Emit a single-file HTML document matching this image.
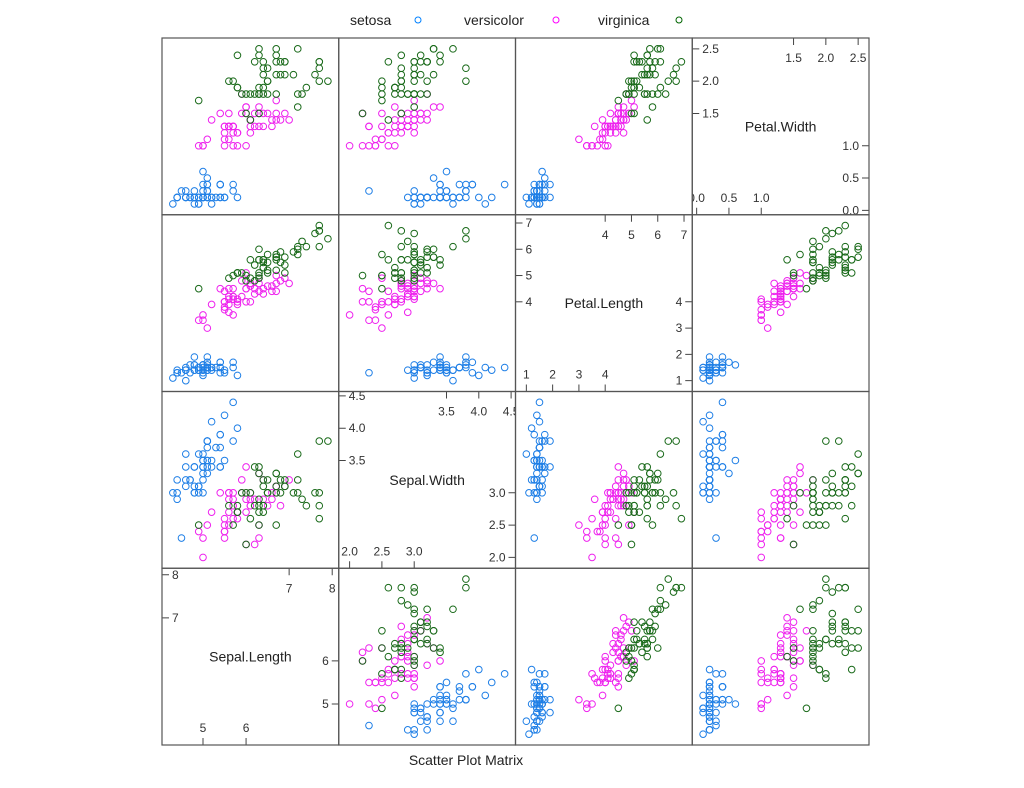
<!DOCTYPE html>
<html><head><meta charset="utf-8">
<style>
html,body{margin:0;padding:0;background:#fff;}
svg{display:block;font-family:"Liberation Sans",sans-serif;}
</style></head>
<body>
<svg id="chart" width="1024" height="788" viewBox="0 0 1024 788" xmlns="http://www.w3.org/2000/svg">
<rect width="1024" height="788" fill="#fff"/>
<g font-size="14" fill="#222">
  <text x="350" y="25">setosa</text>
  <circle cx="418" cy="20" r="3" fill="none" stroke="#0080ff"/>
  <text x="464" y="25">versicolor</text>
  <circle cx="556" cy="20" r="3" fill="none" stroke="#ff00ff"/>
  <text x="598" y="25">virginica</text>
  <circle cx="679" cy="20" r="3" fill="none" stroke="#006400"/>
</g>
<g id="panels"></g>
<text x="466" y="765" font-size="14" fill="#222" text-anchor="middle">Scatter Plot Matrix</text>
</svg>
<script>
const varNames = ["Sepal.Length","Sepal.Width","Petal.Length","Petal.Width"];
const speciesNames = ["setosa","versicolor","virginica"];
const speciesColors = ["#1f7fe6","#ee22ee","#1a6a1a"];
const sepalLength = [5.1,4.9,4.7,4.6,5.0,5.4,4.6,5.0,4.4,4.9,5.4,4.8,4.8,4.3,5.8,5.7,5.4,5.1,5.7,5.1,5.4,5.1,4.6,5.1,4.8,5.0,5.0,5.2,5.2,4.7,4.8,5.4,5.2,5.5,4.9,5.0,5.5,4.9,4.4,5.1,5.0,4.5,4.4,5.0,5.1,4.8,5.1,4.6,5.3,5.0,
7.0,6.4,6.9,5.5,6.5,5.7,6.3,4.9,6.6,5.2,5.0,5.9,6.0,6.1,5.6,6.7,5.6,5.8,6.2,5.6,5.9,6.1,6.3,6.1,6.4,6.6,6.8,6.7,6.0,5.7,5.5,5.5,5.8,6.0,5.4,6.0,6.7,6.3,5.6,5.5,5.5,6.1,5.8,5.0,5.6,5.7,5.7,6.2,5.1,5.7,
6.3,5.8,7.1,6.3,6.5,7.6,4.9,7.3,6.7,7.2,6.5,6.4,6.8,5.7,5.8,6.4,6.5,7.7,7.7,6.0,6.9,5.6,7.7,6.3,6.7,7.2,6.2,6.1,6.4,7.2,7.4,7.9,6.4,6.3,6.1,7.7,6.3,6.4,6.0,6.9,6.7,6.9,5.8,6.8,6.7,6.7,6.3,6.5,6.2,5.9];
const sepalWidth = [3.5,3.0,3.2,3.1,3.6,3.9,3.4,3.4,2.9,3.1,3.7,3.4,3.0,3.0,4.0,4.4,3.9,3.5,3.8,3.8,3.4,3.7,3.6,3.3,3.4,3.0,3.4,3.5,3.4,3.2,3.1,3.4,4.1,4.2,3.1,3.2,3.5,3.6,3.0,3.4,3.5,2.3,3.2,3.5,3.8,3.0,3.8,3.2,3.7,3.3,
3.2,3.2,3.1,2.3,2.8,2.8,3.3,2.4,2.9,2.7,2.0,3.0,2.2,2.9,2.9,3.1,3.0,2.7,2.2,2.5,3.2,2.8,2.5,2.8,2.9,3.0,2.8,3.0,2.9,2.6,2.4,2.4,2.7,2.7,3.0,3.4,3.1,2.3,3.0,2.5,2.6,3.0,2.6,2.3,2.7,3.0,2.9,2.9,2.5,2.8,
3.3,2.7,3.0,2.9,3.0,3.0,2.5,2.9,2.5,3.6,3.2,2.7,3.0,2.5,2.8,3.2,3.0,3.8,2.6,2.2,3.2,2.8,2.8,2.7,3.3,3.2,2.8,3.0,2.8,3.0,2.8,3.8,2.8,2.8,2.6,3.0,3.4,3.1,3.0,3.1,3.1,3.1,2.7,3.2,3.3,3.0,2.5,3.0,3.4,3.0];
const petalLength = [1.4,1.4,1.3,1.5,1.4,1.7,1.4,1.5,1.4,1.5,1.5,1.6,1.4,1.1,1.2,1.5,1.3,1.4,1.7,1.5,1.7,1.5,1.0,1.7,1.9,1.6,1.6,1.5,1.4,1.6,1.6,1.5,1.5,1.4,1.5,1.2,1.3,1.4,1.3,1.5,1.3,1.3,1.3,1.6,1.9,1.4,1.6,1.4,1.5,1.4,
4.7,4.5,4.9,4.0,4.6,4.5,4.7,3.3,4.6,3.9,3.5,4.2,4.0,4.7,3.6,4.4,4.5,4.1,4.5,3.9,4.8,4.0,4.9,4.7,4.3,4.4,4.8,5.0,4.5,3.5,3.8,3.7,3.9,5.1,4.5,4.5,4.7,4.4,4.1,4.0,4.4,4.6,4.0,3.3,4.2,4.2,4.2,4.3,3.0,4.1,
6.0,5.1,5.9,5.6,5.8,6.6,4.5,6.3,5.8,6.1,5.1,5.3,5.5,5.0,5.1,5.3,5.5,6.7,6.9,5.0,5.7,4.9,6.7,4.9,5.7,6.0,4.8,4.9,5.6,5.8,6.1,6.4,5.6,5.1,5.6,6.1,5.6,5.5,4.8,5.4,5.6,5.1,5.1,5.9,5.7,5.2,5.0,5.2,5.4,5.1];
const petalWidth = [0.2,0.2,0.2,0.2,0.2,0.4,0.3,0.2,0.2,0.1,0.2,0.2,0.1,0.1,0.2,0.4,0.4,0.3,0.3,0.3,0.2,0.4,0.2,0.5,0.2,0.2,0.4,0.2,0.2,0.2,0.2,0.4,0.1,0.2,0.2,0.2,0.2,0.1,0.2,0.2,0.3,0.3,0.2,0.6,0.4,0.3,0.2,0.2,0.2,0.2,
1.4,1.5,1.5,1.3,1.5,1.3,1.6,1.0,1.3,1.4,1.0,1.5,1.0,1.4,1.3,1.4,1.5,1.0,1.5,1.1,1.8,1.3,1.5,1.2,1.3,1.4,1.4,1.7,1.5,1.0,1.1,1.0,1.2,1.6,1.5,1.6,1.5,1.3,1.3,1.3,1.2,1.4,1.2,1.0,1.3,1.2,1.3,1.3,1.1,1.3,
2.5,1.9,2.1,1.8,2.2,2.1,1.7,1.8,1.8,2.5,2.0,1.9,2.1,2.0,2.4,2.3,1.8,2.2,2.3,1.5,2.3,2.0,2.0,1.8,2.1,1.8,1.8,1.8,2.1,1.6,1.9,2.0,2.2,1.5,1.4,2.3,2.4,1.8,1.8,2.1,2.4,2.3,1.9,2.3,2.5,2.3,1.9,2.0,2.3,1.8];
const speciesIndex = [].concat(Array(50).fill(0), Array(50).fill(1), Array(50).fill(2));
const lowerTicks = [["5","6"],["2.0","2.5","3.0"],["1","2","3","4"],["0.0","0.5","1.0"]];
const upperTicks = [["7","8"],["3.5","4.0","4.5"],["4","5","6","7"],["1.5","2.0","2.5"]];

const dataCols = [sepalLength, sepalWidth, petalLength, petalWidth];
const NS = "http://www.w3.org/2000/svg";
const L = 162, T = 38, R = 869, B = 744, P = (R - L) / 4;
const lims = dataCols.map(a => { const mn = Math.min(...a), mx = Math.max(...a), r = mx - mn; return [mn - 0.07 * r, mx + 0.07 * r]; });
function sx(v, c) { const x0 = L + c * P; return x0 + (v - lims[v === undefined ? 0 : c][0]) / (lims[c][1] - lims[c][0]) * P; }
function sy(v, r, rowTop) { return rowTop + P - (v - lims[r][0]) / (lims[r][1] - lims[r][0]) * P; }
function mk(tag, attrs, parent) { const e = document.createElementNS(NS, tag); for (const k in attrs) e.setAttribute(k, attrs[k]); parent.appendChild(e); return e; }

const root = document.getElementById("panels");
const defs = mk("defs", {}, root);
for (let rv = 0; rv < 4; rv++) {
  const rowTop = T + (3 - rv) * P;
  for (let cv = 0; cv < 4; cv++) {
    const x0 = L + cv * P;
    const cp = mk("clipPath", {id: "cp" + rv + cv}, defs);
    mk("rect", {x: x0, y: rowTop, width: P, height: P}, cp);
    const g = mk("g", {"clip-path": "url(#cp" + rv + cv + ")"}, root);
    if (rv === cv) {
      
      
      const lab = mk("text", {x: x0 + P / 2, y: rowTop + P / 2 + 5, "font-size": 14, "text-anchor": "middle", fill: "#222"}, g);
      lab.textContent = varNames[rv];
      
      
      const ax = mk("g", {stroke: "#444", fill: "#333", "font-size": 12}, g);
      
      
      const x1 = x0 + P, y1 = rowTop + P;
      lowerTicks[rv].forEach(t => {
        const v = parseFloat(t);
        const px = x0 + (v - lims[cv][0]) / (lims[cv][1] - lims[cv][0]) * P;
        const py = sy(v, rv, rowTop);
        mk("line", {x1: px, y1: y1, x2: px, y2: y1 - 7}, ax);
        const tb = mk("text", {x: px, y: y1 - 13, "text-anchor": "middle", stroke: "none"}, ax); tb.textContent = t;
        mk("line", {x1: x1, y1: py, x2: x1 - 7, y2: py}, ax);
        const tr = mk("text", {x: x1 - 10, y: py + 4, "text-anchor": "end", stroke: "none"}, ax); tr.textContent = t;
      });
      upperTicks[rv].forEach(t => {
        const v = parseFloat(t);
        const px = x0 + (v - lims[cv][0]) / (lims[cv][1] - lims[cv][0]) * P;
        const py = sy(v, rv, rowTop);
        mk("line", {x1: px, y1: rowTop, x2: px, y2: rowTop + 7}, ax);
        const tt = mk("text", {x: px, y: rowTop + 24, "text-anchor": "middle", stroke: "none"}, ax); tt.textContent = t;
        mk("line", {x1: x0, y1: py, x2: x0 + 7, y2: py}, ax);
        const tl = mk("text", {x: x0 + 10, y: py + 4, "text-anchor": "start", stroke: "none"}, ax); tl.textContent = t;
      });
    } else {
      
      
      const xs = dataCols[cv], ys = dataCols[rv];
      for (let i = 0; i < xs.length; i++) {
        const px = x0 + (xs[i] - lims[cv][0]) / (lims[cv][1] - lims[cv][0]) * P;
        const py = sy(ys[i], rv, rowTop);
        const c = mk("circle", {cx: px.toFixed(2), cy: py.toFixed(2), r: 3.3, fill: "none", stroke: speciesColors[speciesIndex[i]], "stroke-width": 1}, g);
        
        
      }
    }
    const fr = mk("rect", {x: x0, y: rowTop, width: P, height: P, fill: "none", stroke: "#555", "stroke-width": 1.2}, root);
    
    
  }
}
</script>
</body></html>
